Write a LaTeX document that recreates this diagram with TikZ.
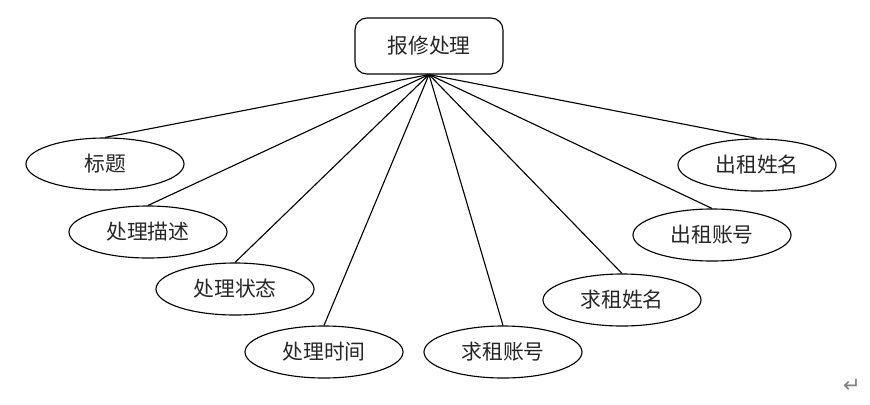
\documentclass[tikz,border=0pt]{standalone}
\usepackage{fontspec}
\usepackage{xcolor}
\usepackage{tikz}
\usetikzlibrary{shapes.geometric, positioning}
\newfontfamily\cjk{Noto Sans CJK SC}
\newfontfamily\symfont{DejaVu Sans}
\definecolor{txtgray}{HTML}{262626}
\tikzset{
    attr/.style={ellipse, draw, line width=0.8pt, minimum width=3.95cm, minimum height=1.3cm, inner sep=0pt, font=\cjk\fontsize{14.8}{16}\selectfont, text=txtgray},
    entity/.style={rectangle, rounded corners=0.3cm, draw, line width=0.8pt, minimum width=3.7cm, minimum height=1.4cm, inner sep=0pt, font=\cjk\fontsize{14.8}{16}\selectfont, text=txtgray},
    link/.style={line width=0.8pt}
}

\begin{document}
\begin{tikzpicture}[x=0.025cm, y=-0.025cm]
    \useasboundingbox (0,0) rectangle (870,404);
    % entity
    \node[entity] (repair) at (429,46) {报修处理};
    % attributes
    \node[attr] (title)  at (105,164) {标题};
    \node[attr] (desc)   at (148,232) {处理描述};
    \node[attr] (state)  at (235,289) {处理状态};
    \node[attr] (time)   at (324,352) {处理时间};
    \node[attr] (racct)  at (503,352) {求租账号};
    \node[attr] (rname)  at (622,300) {求租姓名};
    \node[attr] (lacct)  at (712,235) {出租账号};
    \node[attr] (lname)  at (757,165) {出租姓名};
    % connectors
    \foreach \a in {title,desc,state,time,racct,rname,lacct,lname} {
        \draw[link] (repair.south) -- (\a.north);
    }
    \node[font=\symfont\fontsize{15}{16}\selectfont, text=gray] (ret) at (852,386) {↵};
\end{tikzpicture}
\end{document}
